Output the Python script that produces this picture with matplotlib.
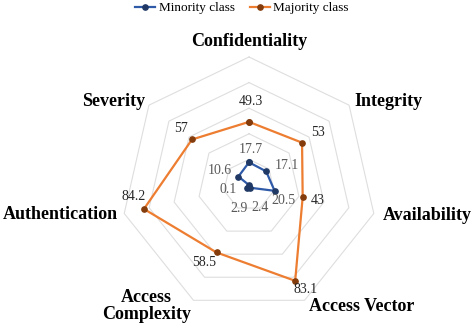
import numpy as np
import matplotlib
matplotlib.use("Agg")
import matplotlib.pyplot as plt

# clockwise from the top
categories = ["Confidentiality", "Integrity", "Availability", "Access Vector",
              "Access\nComplexity", "Authentication", "Severity"]
minority = [17.7, 17.1, 20.5, 2.4, 2.9, 0.1, 10.6]
majority = [49.3, 53, 43, 83.1, 58.5, 84.2, 57]
series_names = ["Minority class", "Majority class"]
rings = [20, 40, 60, 80, 100]

plt.rcParams['font.family'] = ['Liberation Serif', 'DejaVu Serif']

n = len(categories)
angles = np.arange(n) * 2 * np.pi / n
closed = np.append(angles, angles[0])

fig = plt.figure(figsize=(4.74, 3.26), dpi=100)
ax = fig.add_axes([0.2553, 0.0399, 0.5401, 0.7853], projection='polar')
ax.set_theta_zero_location('N')
ax.set_theta_direction(-1)
ax.set_ylim(0, 100)
ax.grid(False)
ax.set_xticks([])
ax.set_yticks([])
ax.spines['polar'].set_visible(False)
ax.patch.set_visible(False)

# heptagon grid
for r in rings:
    ax.plot(closed, [r] * (n + 1), color='#dedede', lw=0.8, zorder=1, clip_on=False)

ax.plot(closed, minority + minority[:1], color='#2f5aa8', lw=1.6, marker='o', ms=3.8,
        mfc='#1f3864', mec='#1f3864', zorder=3, clip_on=False, label=series_names[0])
ax.plot(closed, majority + majority[:1], color='#ed7d31', lw=1.6, marker='o', ms=3.8,
        mfc='#843c0c', mec='#843c0c', zorder=3, clip_on=False, label=series_names[1])

# data label offsets in pixels (x right, y up)
min_off = [(2, 13), (21, 6), (9, -10), (10, -20), (-8, -20), (-21, -4), (-19, 6)]
maj_off = [(2, 20), (16, 10), (15, -3), (10, -9), (-12, -10), (-10, 12), (-11, 11)]
for a, v, o in zip(angles, minority, min_off):
    ax.annotate(f"{v:g}", (a, v), xytext=o, textcoords='offset pixels',
                ha='center', va='center', fontsize=10, color='#595959', zorder=4)
for a, v, o in zip(angles, majority, maj_off):
    ax.annotate(f"{v:g}", (a, v), xytext=o, textcoords='offset pixels',
                ha='center', va='center', fontsize=10, color='#262626', zorder=4)

# category labels (angle in degrees, radius in data units)
label_pos = [(0, 112), (59.2, 127), (99.6, 141), (137.2, 129),
             (220.1, 124), (261, 149), (301.6, 124)]
for name, (deg, r) in zip(categories, label_pos):
    ax.text(np.deg2rad(deg), r, name, ha='center', va='center', fontsize=13,
            fontweight='bold', color='black', linespacing=1.0, clip_on=False)

fig.legend(loc='upper center', bbox_to_anchor=(0.511, 1.03), ncol=2, frameon=False,
           fontsize=9.5, handlelength=1.5, columnspacing=1.1, handletextpad=0.3)

fig.savefig("out.png", dpi=100)
